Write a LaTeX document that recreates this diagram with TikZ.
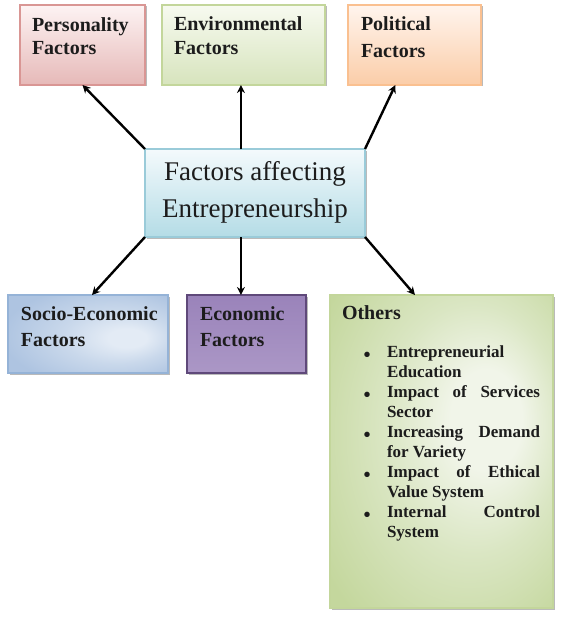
\documentclass[tikz,border=0pt]{standalone}
\usepackage{fontspec}
\setmainfont{Liberation Serif}
\usetikzlibrary{arrows.meta,shadows,calc}

\definecolor{persB}{HTML}{D99694}
\definecolor{persT}{HTML}{FDF3F3}
\definecolor{persF}{HTML}{E6B9B8}
\definecolor{envB}{HTML}{C3D69B}
\definecolor{envT}{HTML}{F7FAF0}
\definecolor{envF}{HTML}{D7E4BD}
\definecolor{polB}{HTML}{FAC090}
\definecolor{polT}{HTML}{FFF5EE}
\definecolor{polF}{HTML}{FBCDA8}
\definecolor{ctrB}{HTML}{9ACBD9}
\definecolor{ctrT}{HTML}{F4FAFC}
\definecolor{ctrF}{HTML}{B4DCE6}
\definecolor{socB}{HTML}{95B3D7}
\definecolor{socI}{HTML}{E3EBF5}
\definecolor{socM}{HTML}{C9D8EB}
\definecolor{socO}{HTML}{AEC4E1}
\definecolor{ecoB}{HTML}{5F497A}
\definecolor{ecoT}{HTML}{9A83BA}
\definecolor{ecoM}{HTML}{765799}
\definecolor{ecoF}{HTML}{AB97C6}
\definecolor{othB}{HTML}{C3D69B}
\definecolor{othI}{HTML}{F1F5E9}
\definecolor{othM}{HTML}{DAE6C3}
\definecolor{othO}{HTML}{C4D79D}
\definecolor{txt}{HTML}{1C1C1C}

\pgfdeclareradialshading{othshade}{\pgfpoint{12bp}{6bp}}{color(0bp)=(othI); color(8bp)=(othI); color(20bp)=(othM); color(36bp)=(othO); color(50bp)=(othO)}
\pgfdeclareradialshading{socshade}{\pgfpoint{14bp}{-3bp}}{color(0bp)=(socI); color(6bp)=(socI); color(17bp)=(socM); color(32bp)=(socO); color(50bp)=(socO)}

% width, height, left offset, first baseline, baselineskip, text
\newcommand\boxtext[6]{\parbox[b][#2][t]{#1}{\fontsize{20}{#5}\selectfont\bfseries\raggedright\leftskip=#3\relax\rule{0pt}{#4}#6}}
\newcommand\bul{\leavevmode\llap{\raisebox{-4pt}{\fontsize{20}{20}\selectfont\textbullet}\hspace{16.5pt}}}

\begin{document}
\begin{tikzpicture}[x=1pt,y=-1pt,
  fbox/.style={draw, line width=2pt, anchor=north west, inner sep=0pt, outer sep=0pt, text=txt,
    drop shadow={shadow xshift=1.5pt, shadow yshift=-1.5pt, opacity=0.45, fill=black!60}},
  link/.style={-{Stealth[length=8pt,width=8pt]}, line width=2.4pt, black}
]
\fill[white] (0,0) rectangle (570,623);
\useasboundingbox (0,0) rectangle (570,623);

\node[fbox, draw=persB, top color=persT, bottom color=persF] (pers) at (20,5)
  {\boxtext{125pt}{80pt}{12pt}{27pt}{23pt}{Personality\\Factors}};
\node[fbox, draw=envB, top color=envT, bottom color=envF] (env) at (162,5)
  {\boxtext{163pt}{80pt}{12pt}{26pt}{23.5pt}{Environmental\\Factors}};
\node[fbox, draw=polB, top color=polT, bottom color=polF] (pol) at (348,5)
  {\boxtext{133pt}{80pt}{13pt}{26pt}{26pt}{Political\\Factors}};

\node[fbox, draw=ctrB, top color=ctrT, bottom color=ctrF] (ctr) at (145,149)
  {\parbox[b][88pt][t]{220pt}{\fontsize{27}{37}\selectfont\centering\rule{0pt}{31pt}Factors affecting\\Entrepreneurship}};

\node[fbox, draw=socB, shading=socshade] (soc) at (8,295)
  {\boxtext{160pt}{78pt}{13pt}{25pt}{26pt}{Socio-Economic\\Factors}};
\node[fbox, draw=ecoB, top color=ecoT, middle color=ecoM, bottom color=ecoF] (eco) at (187,295)
  {\boxtext{119pt}{78pt}{13pt}{25pt}{26pt}{Economic\\Factors}};

\node[fbox, draw=othB, shading=othshade] (oth) at (330,295)
  {\parbox[b][313pt][t]{223pt}{\fontsize{20}{23}\selectfont\bfseries\leftskip=12pt\relax\rule{0pt}{24pt}Others\par
   \vspace{18pt}
   \fontsize{17}{20}\selectfont\leftskip=57pt\relax\rightskip=13pt\relax
   \bul Entrepreneurial\\
   Education\\
   \bul Impact\hfill of\hfill Services\\
   Sector\\
   \bul Increasing\hfill Demand\\
   for Variety\\
   \bul Impact\hfill of\hfill Ethical\\
   Value System\\
   \bul Internal\hfill Control\\
   System\par}};

\coordinate (tN) at ($(ctr.north west)!0.436!(ctr.north east)$);
\coordinate (tS) at ($(ctr.south west)!0.436!(ctr.south east)$);
\coordinate (polIn) at ($(pol.south west)!0.356!(pol.south east)$);
\coordinate (socIn) at ($(soc.north west)!0.525!(soc.north east)$);
\coordinate (othIn) at ($(oth.north west)!0.381!(oth.north east)$);

\draw[link] (ctr.north west) -- (pers.south);
\draw[link] (tN) -- (tN |- env.south);
\draw[link] (ctr.north east) -- (polIn);
\draw[link] (ctr.south west) -- (socIn);
\draw[link] (tS) -- (tS |- eco.north);
\draw[link] (ctr.south east) -- (othIn);
\end{tikzpicture}
\end{document}
